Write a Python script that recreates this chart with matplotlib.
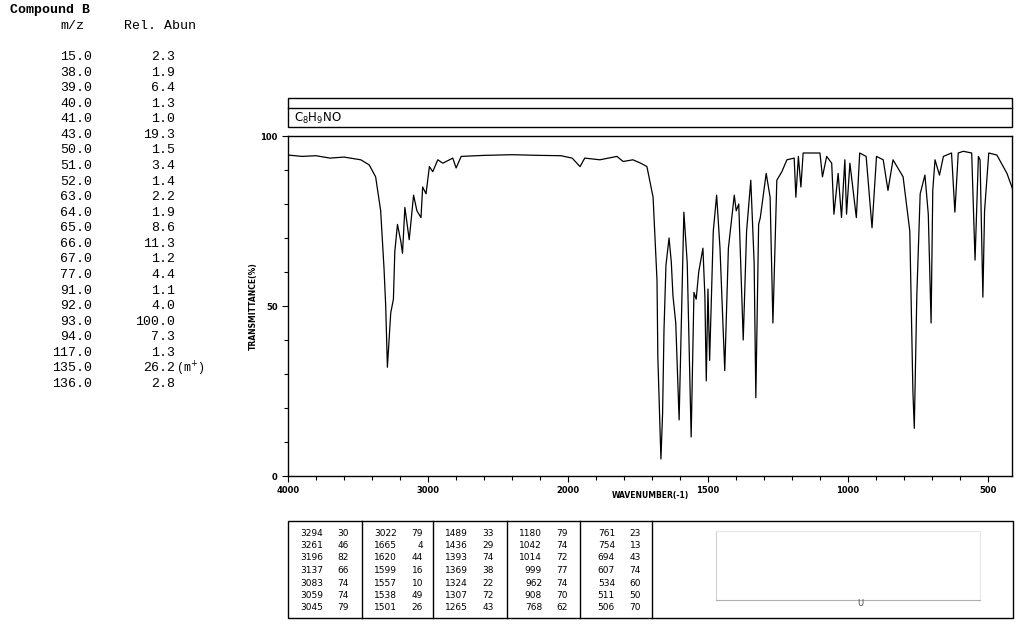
import numpy as np
import matplotlib
matplotlib.use("Agg")
import matplotlib.pyplot as plt
from matplotlib.patches import Rectangle
from matplotlib.lines import Line2D

W, H = 1024, 633

# ---- data ----
mz = [15.0, 38.0, 39.0, 40.0, 41.0, 43.0, 50.0, 51.0, 52.0, 63.0, 64.0, 65.0,
      66.0, 67.0, 77.0, 91.0, 92.0, 93.0, 94.0, 117.0, 135.0, 136.0]
rel_abun = [2.3, 1.9, 6.4, 1.3, 1.0, 19.3, 1.5, 3.4, 1.4, 2.2, 1.9, 8.6,
            11.3, 1.2, 4.4, 1.1, 4.0, 100.0, 7.3, 1.3, 26.2, 2.8]
abun_notes = {135.0: "(m$^{+}$)"}

wavenumber = [4000, 3900, 3800, 3700, 3600, 3480, 3420, 3374, 3338, 3314, 3302, 3290,
              3278, 3266, 3247, 3237, 3218, 3194, 3182, 3165, 3134, 3103, 3079, 3050,
              3038, 3014, 2990, 2966, 2930, 2894, 2823, 2799, 2763, 2600, 2400, 2200,
              2050, 1985, 1957, 1940, 1886, 1825, 1803, 1768, 1740, 1718, 1696, 1682,
              1679, 1668, 1662, 1657, 1650, 1639, 1631, 1625, 1615, 1603, 1597, 1586,
              1574, 1560, 1550, 1542, 1533, 1518, 1511, 1506, 1500, 1494, 1481, 1469,
              1457, 1440, 1427, 1406, 1399, 1390, 1374, 1362, 1347, 1335, 1329, 1319,
              1313, 1292, 1278, 1268, 1254, 1236, 1218, 1192, 1186, 1177, 1168, 1160,
              1100, 1091, 1076, 1058, 1050, 1035, 1023, 1011, 1005, 993, 970, 958,
              935, 914, 898, 874, 857, 839, 803, 779, 768, 763, 754, 742, 725, 713,
              703, 697, 689, 673, 659, 630, 618, 606, 588, 558, 546, 534, 528, 518,
              512, 497, 468, 432, 410]
transmittance = [94.4, 94.0, 94.2, 93.5, 93.8, 93.0, 91.5, 88.0, 78.0, 61.0, 50.0, 32.0,
                 40.0, 48.0, 52.0, 66.0, 74.0, 69.0, 65.5, 79.0, 69.5, 82.6, 78.0, 76.0,
                 85.0, 83.0, 91.0, 89.5, 93.0, 92.0, 93.5, 90.6, 94.0, 94.3, 94.5, 94.3,
                 94.2, 93.5, 91.0, 93.5, 93.0, 94.0, 92.5, 93.0, 92.0, 91.0, 82.0, 57.6,
                 35.0, 5.0, 18.5, 43.0, 62.0, 70.0, 63.0, 53.0, 45.0, 16.5, 38.0, 77.6,
                 62.6, 11.5, 54.0, 52.0, 60.0, 67.0, 53.0, 28.0, 55.0, 34.0, 72.0, 82.6,
                 67.0, 31.0, 67.0, 82.6, 78.0, 80.0, 40.0, 72.0, 87.0, 62.6, 23.0, 74.0,
                 76.0, 89.0, 82.0, 45.0, 87.0, 89.5, 93.0, 93.5, 82.0, 94.0, 85.0, 95.0,
                 95.0, 88.0, 94.0, 92.0, 77.0, 89.0, 76.0, 93.0, 77.0, 92.0, 76.0, 95.0,
                 94.0, 73.0, 94.0, 93.0, 84.0, 93.0, 88.0, 72.0, 25.0, 14.0, 53.0, 83.0,
                 88.5, 77.0, 45.0, 84.0, 93.0, 88.5, 94.0, 95.0, 77.6, 95.0, 95.5, 95.0,
                 63.5, 94.0, 93.0, 52.6, 78.0, 95.0, 94.4, 89.0, 84.0]

peak_wn = [3294, 3261, 3196, 3137, 3083, 3059, 3045,
           3022, 1665, 1620, 1599, 1557, 1538, 1501,
           1489, 1436, 1393, 1369, 1324, 1307, 1265,
           1180, 1042, 1014, 999, 962, 908, 768,
           761, 754, 694, 607, 534, 511, 506]
peak_t = [30, 46, 82, 66, 74, 74, 79,
          79, 4, 44, 16, 10, 49, 26,
          33, 29, 74, 38, 22, 72, 43,
          79, 74, 72, 77, 74, 70, 62,
          23, 13, 43, 74, 60, 50, 70]

x_ticks = [4000, 3000, 2000, 1500, 1000, 500]
y_ticks = [0, 50, 100]

# ---- helpers ----
def fx(px): return px / W
def fy(py): return 1 - py / H

def fwd(w):
    # increasing in w; 2000-4000 compressed by half
    w = np.asarray(w, dtype=float)
    return np.where(w >= 2000, (w - 2000) / 2000.0, (w - 2000) / 1000.0)

def inv(u):
    u = np.asarray(u, dtype=float)
    return np.where(u >= 0, 2000 + u * 2000.0, 2000 + u * 1000.0)

fig = plt.figure(figsize=(W / 100, H / 100), dpi=100)
mono = "Liberation Mono"
pix = "DejaVu Sans"
fs = 9.5

# ---- mass spec text ----
fig.text(fx(10), fy(10), "Compound B", family=mono, weight="bold", fontsize=fs, va="center")
fig.text(fx(72), fy(26), "m/z", family=mono, fontsize=fs, va="center", ha="center")
fig.text(fx(160), fy(26), "Rel. Abun", family=mono, fontsize=fs, va="center", ha="center")
for i, (m, a) in enumerate(zip(mz, rel_abun)):
    y = 57 + i * 15.57
    fig.text(fx(92), fy(y), f"{m:.1f}", family=mono, fontsize=fs, va="center", ha="right")
    fig.text(fx(175), fy(y), f"{a:.1f}", family=mono, fontsize=fs, va="center", ha="right")
    if m in abun_notes:
        fig.text(fx(176), fy(y), abun_notes[m], family=mono, fontsize=8.5, va="center", ha="left")

# ---- spectrum axes ----
L, R, T, B = 288, 1012, 136, 476
ax = fig.add_axes([fx(L), fy(B), fx(R - L), (B - T) / H])
ax.set_xscale("function", functions=(fwd, inv))
ax.plot(wavenumber, transmittance, color="black", lw=0.9)
ax.set_xlim(4000, 414)
ax.set_ylim(0, 100)
ax.set_xticks(x_ticks)
ax.set_xticklabels([str(t) for t in x_ticks])
ax.set_xticks(list(range(3800, 2000, -200)) + list(range(1900, 414, -100)), minor=True)
ax.set_yticks(y_ticks)
ax.set_yticks(list(range(10, 100, 10)), minor=True)
ax.tick_params(axis="both", which="both", direction="out", labelsize=6, width=0.8)
ax.tick_params(which="major", length=4)
ax.tick_params(which="minor", length=3)
for lab in ax.get_xticklabels() + ax.get_yticklabels():
    lab.set_fontweight("bold")
ax.set_ylabel("TRANSMITTANCE(%)", fontsize=5.5, fontweight="bold")
ax.yaxis.set_label_coords((258 - 288) / (R - L), 0.5)
ax.text(0.5, -0.058, "WAVENUMBER(-1)", transform=ax.transAxes, fontsize=5.5,
        fontweight="bold", ha="center", va="center")
for s in ax.spines.values():
    s.set_linewidth(1.0)

# ---- formula header box ----
fig.add_artist(Rectangle((fx(L), fy(127)), fx(R - L), (127 - 98) / H, transform=fig.transFigure,
                         fill=False, lw=1.0, ec="black"))
fig.add_artist(Line2D([fx(L), fx(R)], [fy(108), fy(108)], transform=fig.transFigure, lw=1.0, color="black"))
fig.text(fx(294), fy(118), "C$_8$H$_9$NO", fontsize=8.5, va="center", ha="left", family=pix)

# ---- peak table ----
tL, tR, tT, tB = 288, 1013, 521, 618
fig.add_artist(Rectangle((fx(tL), fy(tB)), fx(tR - tL), (tB - tT) / H, transform=fig.transFigure,
                         fill=False, lw=1.0, ec="black"))
col_x = [288, 362, 433, 507, 580]
for cx in col_x[1:] + [652]:
    fig.add_artist(Line2D([fx(cx), fx(cx)], [fy(tT), fy(tB)], transform=fig.transFigure, lw=1.0, color="black"))
for k, (w, t) in enumerate(zip(peak_wn, peak_t)):
    c, r = divmod(k, 7)
    y = 533 + r * 12.5
    fig.text(fx(col_x[c] + 35), fy(y), str(w), fontsize=6.5, ha="right", va="center", family=pix)
    fig.text(fx(col_x[c] + 61), fy(y), str(t), fontsize=6.5, ha="right", va="center", family=pix)

# faint inner box
for xs, ys, col in [([716, 716], [531, 600], "#d0d0d0"), ([716, 980], [531, 531], "#e6e6e6"),
                    ([980, 980], [531, 600], "#e6e6e6"), ([716, 980], [600, 600], "#b0b0b0")]:
    fig.add_artist(Line2D([fx(v) for v in xs], [fy(v) for v in ys], transform=fig.transFigure,
                          lw=0.8, color=col))
fig.text(fx(860), fy(604), "U", fontsize=6, ha="center", va="center", color="#444444")

fig.savefig("out.png", dpi=100)
